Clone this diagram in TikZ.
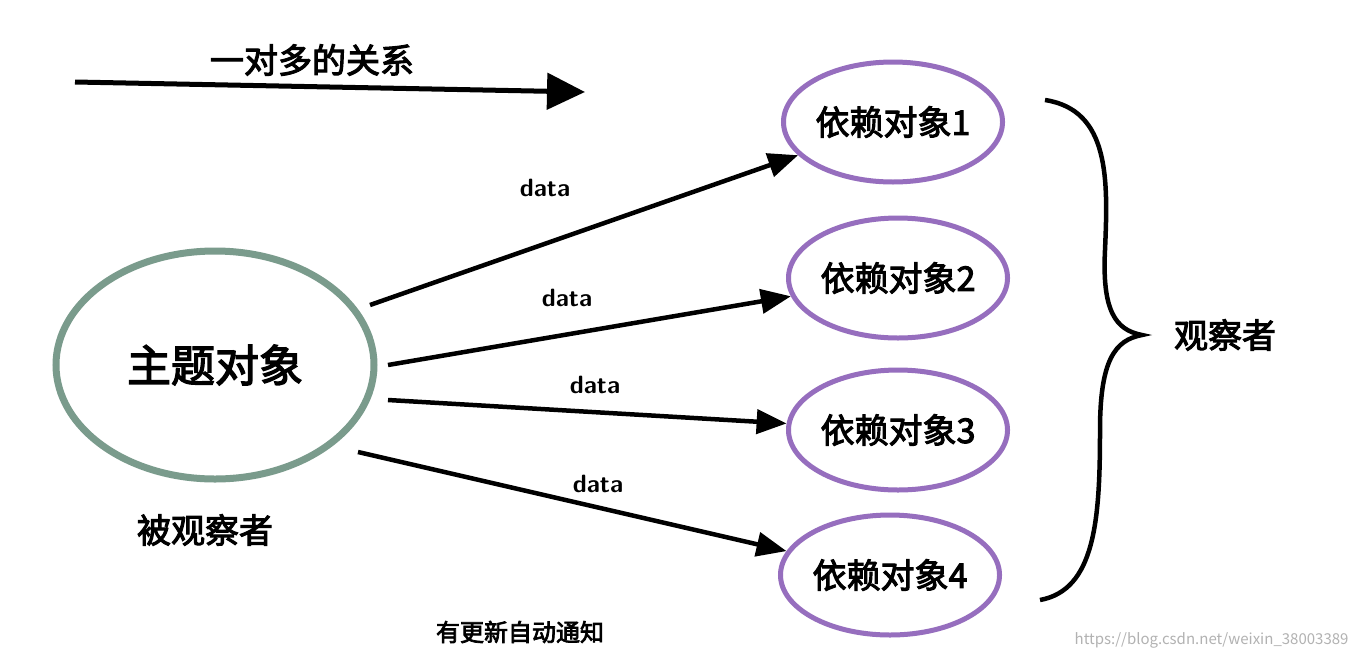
\documentclass[tikz,border=0pt]{standalone}
\usepackage{fontspec}
\setmainfont{Noto Sans CJK SC}
\newfontfamily\cjkb[FakeBold=3]{Noto Sans CJK SC}
\usetikzlibrary{shapes.geometric,arrows.meta}
\definecolor{sgreen}{RGB}{122,155,140}
\definecolor{vpurple}{RGB}{150,110,190}
\begin{document}
\begin{tikzpicture}[x=1pt,y=-1pt,
  dep/.style={draw=vpurple,line width=5pt,ellipse,minimum width=206pt,minimum height=120pt,inner sep=0pt,font=\cjkb\fontsize{34}{36}\selectfont},
  arr/.style={line width=4.5pt,-{Triangle[length=30pt,width=24pt]}},
  lbl/.style={font=\sffamily\bfseries\fontsize{25}{27}\selectfont},
  txt/.style={font=\cjkb\fontsize{34}{36}\selectfont}]
\useasboundingbox (0,0) rectangle (1356,662);
\fill[white] (0,0) rectangle (1356,662);
\coordinate (a1) at (75,82); \coordinate (a2) at (585,92);
\draw[line width=5pt,-{Triangle[length=38pt,width=36pt]}] (a1) -- (a2);
\node[txt] (rel) at (312,60) {一对多的关系};
\node[draw=sgreen,line width=7pt,ellipse,minimum width=318pt,minimum height=228pt,font=\cjkb\fontsize{44}{46}\selectfont] (s) at (215,365) {主题对象};
\node[txt] (obsd) at (205,530) {被观察者};
\node[dep] (d1) at (893,122) {依赖对象1};
\node[dep] (d2) at (898,278) {依赖对象2};
\node[dep] (d3) at (898,430) {依赖对象3};
\node[dep] (d4) at (890,575) {依赖对象4};
\coordinate (s1) at (370,305); \coordinate (s2) at (388,365);
\coordinate (s3) at (388,400); \coordinate (s4) at (358,452);
\draw[arr] (s1) -- (d1);
\draw[arr] (s2) -- (d2);
\draw[arr] (s3) -- (d3);
\draw[arr] (s4) -- (d4);
\node[lbl] (l1) at (545,188) {data};
\node[lbl] (l2) at (567,298) {data};
\node[lbl] (l3) at (595,385) {data};
\node[lbl] (l4) at (598,484) {data};
\coordinate (b1) at (1045,100); \coordinate (b2) at (1040,600); \coordinate (bt) at (1142,335);
\draw[line width=4.5pt] (b1) .. controls (1110,110) and (1108,180) .. (1105,250)
  .. controls (1102,310) and (1115,330) .. (bt)
  .. controls (1115,340) and (1100,360) .. (1100,430)
  .. controls (1100,520) and (1095,590) .. (b2);
\node[txt] (obs) at (1225,335) {观察者};
\node[font=\cjkb\fontsize{24}{26}\selectfont] (n) at (520,632) {有更新自动通知};
\node[text=gray!60,font=\fontsize{15}{16}\selectfont,anchor=east] (w) at (1352,640) {https://blog.csdn.net/weixin\_38003389};
\end{tikzpicture}
\end{document}
